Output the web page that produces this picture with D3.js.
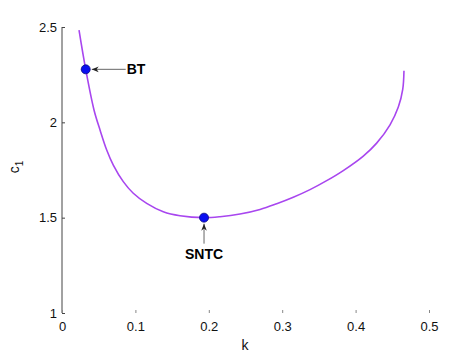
<!DOCTYPE html>
<html><head><meta charset="utf-8">
<script src="https://cdn.jsdelivr.net/npm/d3@7"></script>
<style>body{margin:0;background:#fff;}svg{display:block;font-family:"Liberation Sans",Arial,Helvetica,sans-serif;}</style>
</head><body>
<svg id="c" width="474" height="355"></svg>
<script>
const kVals  = [0.0232, 0.0323, 0.0436, 0.0518, 0.0609, 0.0699, 0.0835, 0.0971, 0.1154, 0.1380, 0.1608, 0.1935, 0.2153, 0.2425, 0.2698, 0.2925, 0.3151, 0.3379, 0.3606, 0.3832, 0.4105, 0.4287, 0.4469, 0.4582, 0.4642, 0.4659];
const c1Vals = [2.484, 2.278, 2.065, 1.960, 1.855, 1.776, 1.689, 1.628, 1.575, 1.531, 1.510, 1.500, 1.505, 1.519, 1.543, 1.573, 1.607, 1.647, 1.694, 1.747, 1.823, 1.891, 1.987, 2.080, 2.173, 2.271];
const xTicks = [0, 0.1, 0.2, 0.3, 0.4, 0.5];
const yTicks = [1, 1.5, 2, 2.5];
const specialNames = ["BT", "SNTC"];
const specialK = [0.0323, 0.1935];
const specialC1 = [2.278, 1.5];

const svg = d3.select("#c");
const x = d3.scaleLinear().domain([0, 0.5]).range([62, 429]);
const y = d3.scaleLinear().domain([1, 2.5]).range([313, 27]);
const axisCol = "#444";

// y axis
const ya = svg.append("g").attr("transform", "translate(62,0)")
  .call(d3.axisRight(y).tickValues(yTicks).tickSize(3).tickFormat(d3.format("")));
ya.select(".domain").attr("stroke", axisCol).attr("d", "M0,27V313");
ya.selectAll(".tick line").attr("stroke", axisCol);
ya.selectAll(".tick text").attr("x", -5).attr("text-anchor", "end").attr("font-size", 13).attr("fill", "#111");

// x axis (no domain line)
const xa = svg.append("g").attr("transform", "translate(0,313)")
  .call(d3.axisTop(x).tickValues(xTicks).tickSize(3).tickFormat(d3.format("")));
xa.select(".domain").remove();
xa.selectAll(".tick line").attr("stroke", "#888");
xa.selectAll(".tick text").attr("y", 18).attr("dy", 0).attr("font-size", 13).attr("fill", "#111");

// axis labels
svg.append("text").attr("x", 245).attr("y", 350).attr("text-anchor", "middle").attr("font-size", 14).attr("fill", "#111").text("k");
const yl = svg.append("text").attr("transform", "translate(19,167) rotate(-90)").attr("text-anchor", "middle").attr("font-size", 14).attr("fill", "#111");
yl.append("tspan").text("c");
yl.append("tspan").attr("font-size", 10).attr("dy", 4).text("1");

// curve
const pts = kVals.map((k, i) => [k, c1Vals[i]]);
svg.append("path").datum(pts)
  .attr("fill", "none").attr("stroke", "#a846ef").attr("stroke-width", 1.6)
  .attr("d", d3.line().x(d => x(d[0])).y(d => y(d[1])).curve(d3.curveCatmullRom.alpha(0.5)));

// arrow marker
const defs = svg.append("defs");
defs.append("marker").attr("id", "ah").attr("viewBox", "0 0 10 10").attr("refX", 10).attr("refY", 5)
  .attr("markerWidth", 7).attr("markerHeight", 7).attr("orient", "auto-start-reverse")
  .append("path").attr("d", "M0,1 L10,5 L0,9 L3,5 Z").attr("fill", "#222");

// BT annotation
const bx = x(specialK[0]), by = y(specialC1[0]);
svg.append("line").attr("x1", bx + 40).attr("y1", by).attr("x2", bx + 6).attr("y2", by)
  .attr("stroke", "#666").attr("stroke-width", 1).attr("marker-end", "url(#ah)");
svg.append("text").attr("x", bx + 41).attr("y", by + 5).attr("font-size", 14).attr("font-weight", "bold").attr("fill", "#000").text(specialNames[0]);

// SNTC annotation
const sx = x(specialK[1]), sy = y(specialC1[1]);
svg.append("line").attr("x1", sx).attr("y1", sy + 26).attr("x2", sx).attr("y2", sy + 6)
  .attr("stroke", "#666").attr("stroke-width", 1).attr("marker-end", "url(#ah)");
svg.append("text").attr("x", sx).attr("y", sy + 41).attr("text-anchor", "middle").attr("font-size", 14).attr("font-weight", "bold").attr("fill", "#000").text(specialNames[1]);

// dots
svg.selectAll("circle.sp").data(specialK).enter().append("circle")
  .attr("cx", d => x(d)).attr("cy", (d, i) => y(specialC1[i])).attr("r", 4.5)
  .attr("fill", "#0a0ff0").attr("stroke", "#0a0a80").attr("stroke-width", 0.8);
</script>
</body></html>
